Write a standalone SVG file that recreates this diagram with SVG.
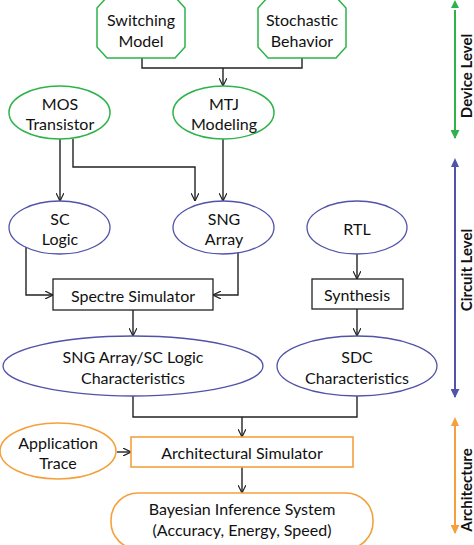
<svg xmlns="http://www.w3.org/2000/svg" width="474" height="545" viewBox="0 0 474 545">
<defs>
<marker id="ah" viewBox="0 0 10 10" refX="10" refY="5" markerWidth="8" markerHeight="8" markerUnits="userSpaceOnUse" orient="auto"><path d="M0,0 L10,5 L0,10" fill="none" stroke="#222" stroke-width="1.5"/></marker>
<marker id="gE" viewBox="0 0 10 10" refX="9" refY="5" markerWidth="9" markerHeight="9" markerUnits="userSpaceOnUse" orient="auto"><path d="M0,0 L10,5 L0,10 z" fill="#2db34a"/></marker>
<marker id="bE" viewBox="0 0 10 10" refX="9" refY="5" markerWidth="9" markerHeight="9" markerUnits="userSpaceOnUse" orient="auto"><path d="M0,0 L10,5 L0,10 z" fill="#5053a8"/></marker>
<marker id="oE" viewBox="0 0 10 10" refX="9" refY="5" markerWidth="9" markerHeight="9" markerUnits="userSpaceOnUse" orient="auto"><path d="M0,0 L10,5 L0,10 z" fill="#f5a03c"/></marker>
</defs>
<style>
text{font-family:Lato,"Liberation Sans",sans-serif;font-size:16px;fill:#111;text-anchor:middle;dominant-baseline:central}
.g{fill:#fff;stroke:#2db34a;stroke-width:1.5}
.b{fill:#fff;stroke:#5053a8;stroke-width:1.3}
.k{fill:#fff;stroke:#222;stroke-width:1.3}
.o{fill:#fff;stroke:#f5a03c;stroke-width:1.6}
.c{fill:none;stroke:#222;stroke-width:1.4}
text.lv{font-weight:bold;font-size:15px;dominant-baseline:auto}
</style>
<rect width="474" height="545" fill="#fff"/>
<g id="connectors">
<path class="c" d="M142,58 V68 H302 V58"/>
<path class="c" d="M223,68 V86" marker-end="url(#ah)"/>
<path class="c" d="M60,139 V201" marker-end="url(#ah)"/>
<path class="c" d="M73,139 V167 H195 V201" marker-end="url(#ah)"/>
<path class="c" d="M223,139 V201" marker-end="url(#ah)"/>
<path class="c" d="M26,247 V295 H53" marker-end="url(#ah)"/>
<path class="c" d="M238,249 V295 H213" marker-end="url(#ah)"/>
<path class="c" d="M357,254 V279" marker-end="url(#ah)"/>
<path class="c" d="M133,310 V336" marker-end="url(#ah)"/>
<path class="c" d="M357,309 V336" marker-end="url(#ah)"/>
<path class="c" d="M133,396 V417 H357 V396"/>
<path class="c" d="M242,417 V437" marker-end="url(#ah)"/>
<path class="c" d="M117,452 H131" marker-end="url(#ah)"/>
<path class="c" d="M242,467 V493" marker-end="url(#ah)"/>
</g>
<g id="switching-model">
<polygon class="g" points="107,-3 175,-3 185,8 185,47 175,58 107,58 97,47 97,8"/>
<text x="141" y="19">Switching</text><text x="141" y="40">Model</text>
</g>
<g id="stochastic-behavior">
<polygon class="g" points="268,-3 336,-3 346,8 346,47 336,58 268,58 258,47 258,8"/>
<text x="302" y="19">Stochastic</text><text x="302" y="40">Behavior</text>
</g>
<g id="mos-transistor">
<ellipse class="g" cx="59.5" cy="112.5" rx="50.5" ry="26.5"/>
<text x="60" y="103">MOS</text><text x="60" y="123">Transistor</text>
</g>
<g id="mtj-modeling">
<ellipse class="g" cx="223.5" cy="112.5" rx="50.5" ry="26.5"/>
<text x="224" y="103">MTJ</text><text x="224" y="123">Modeling</text>
</g>
<g id="sc-logic">
<ellipse class="b" cx="59.5" cy="227.5" rx="50.5" ry="26.5"/>
<text x="60" y="218">SC</text><text x="60" y="238">Logic</text>
</g>
<g id="sng-array">
<ellipse class="b" cx="223.5" cy="227.5" rx="50.5" ry="26.5"/>
<text x="224" y="218">SNG</text><text x="224" y="238">Array</text>
</g>
<g id="rtl">
<ellipse class="b" cx="357" cy="227.5" rx="50" ry="26.5"/>
<text x="357" y="228">RTL</text>
</g>
<g id="spectre-simulator">
<rect class="k" x="53" y="279" width="160" height="31"/>
<text x="133" y="295">Spectre Simulator</text>
</g>
<g id="synthesis">
<rect class="k" x="312" y="279" width="91" height="30"/>
<text x="357" y="294">Synthesis</text>
</g>
<g id="sng-sc-characteristics">
<ellipse class="b" cx="133" cy="366" rx="130" ry="30"/>
<text x="133" y="356">SNG Array/SC Logic</text><text x="133" y="377">Characteristics</text>
</g>
<g id="sdc-characteristics">
<ellipse class="b" cx="357" cy="366" rx="80" ry="30"/>
<text x="357" y="356">SDC</text><text x="357" y="377">Characteristics</text>
</g>
<g id="application-trace">
<ellipse class="o" cx="58" cy="451" rx="58" ry="28"/>
<text x="58" y="442">Application</text><text x="58" y="462">Trace</text>
</g>
<g id="architectural-simulator">
<rect class="o" x="131" y="437" width="222" height="30"/>
<text x="242" y="452">Architectural Simulator</text>
</g>
<g id="bayesian-inference-system">
<rect class="o" x="111" y="493" width="262" height="56" rx="27"/>
<text x="242" y="508">Bayesian Inference System</text><text x="242" y="529">(Accuracy, Energy, Speed)</text>
</g>
<g id="levels">
<line x1="455" y1="10" x2="455" y2="138" stroke="#2db34a" stroke-width="2" marker-end="url(#gE)"/>
<path d="M455,0 l-4,8 h8 z" fill="#2db34a"/>
<line x1="455" y1="167" x2="455" y2="397" stroke="#5053a8" stroke-width="2" marker-end="url(#bE)"/>
<path d="M455,158 l-4,9 h8 z" fill="#5053a8"/>
<line x1="455" y1="426" x2="455" y2="533" stroke="#f5a03c" stroke-width="2" marker-end="url(#oE)"/>
<path d="M455,417 l-4,9 h8 z" fill="#f5a03c"/>
<text class="lv" transform="translate(472,76) rotate(-90)">Device Level</text>
<text class="lv" transform="translate(472,270) rotate(-90)">Circuit Level</text>
<text class="lv" transform="translate(472,490) rotate(-90)">Architecture</text>
</g>
</svg>
